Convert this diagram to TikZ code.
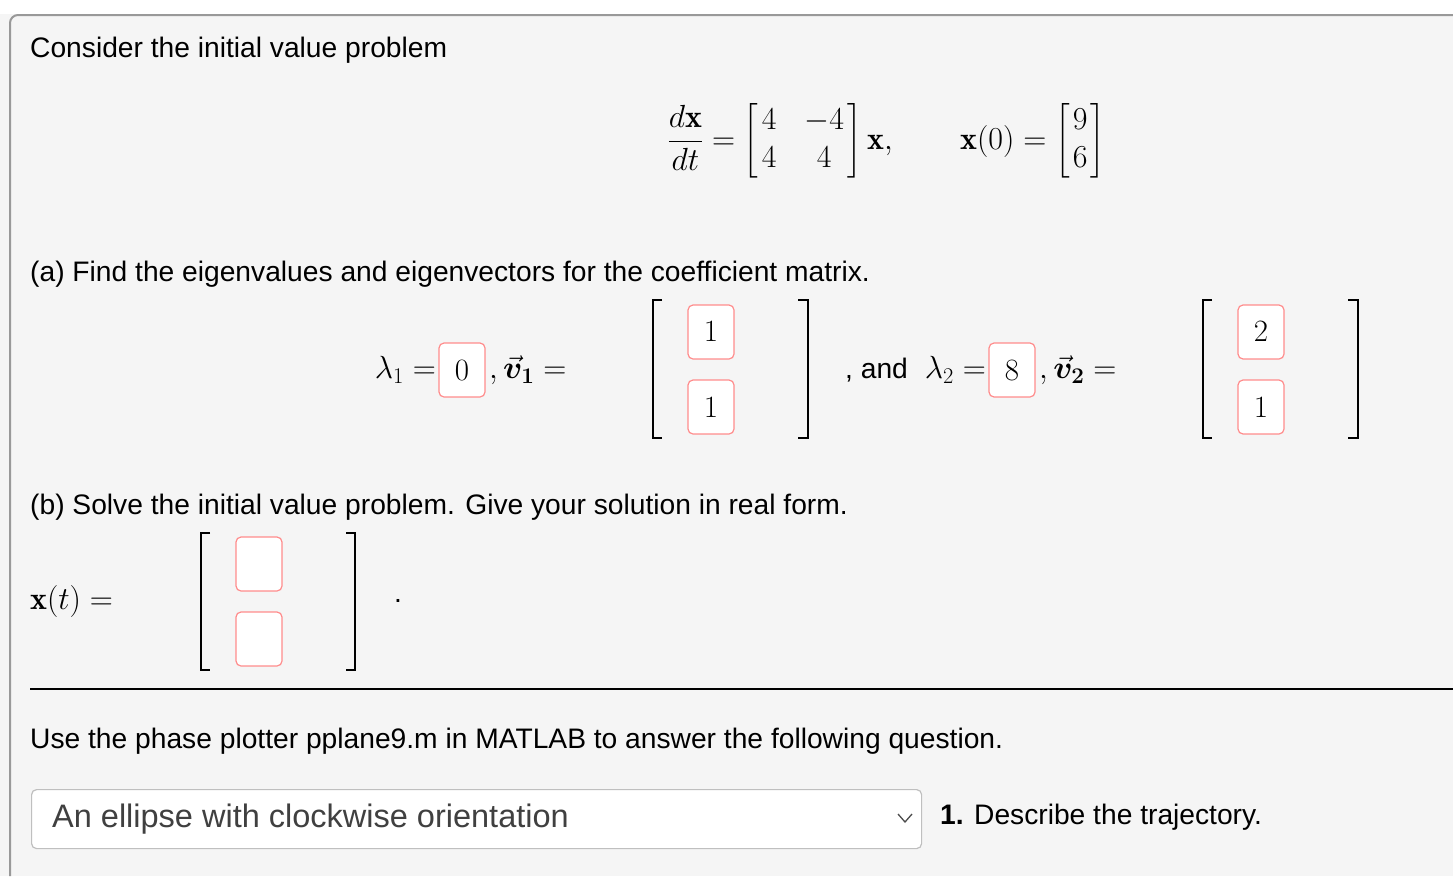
\documentclass[tikz,border=0pt]{standalone}
\usepackage{fix-cm}
\usepackage{amsmath,bm}
\usepackage{fontspec}
\newfontfamily\hv{Liberation Sans}
\begin{document}
\begin{tikzpicture}[x=1pt,y=-1pt,
  txt/.style={anchor=west,inner sep=0,font=\hv\fontsize{28.2}{32}\selectfont},
  mth/.style={inner sep=0,font=\fontsize{32}{38}\selectfont},
  ibox/.style={draw=red!45!white,line width=1.2pt,fill=white,rounded corners=5pt,minimum width=46pt,minimum height=54pt,inner sep=0,font=\fontsize{31}{36}\selectfont},
  brk/.style={line width=2pt}]
\useasboundingbox (0,0) rectangle (1453,876);
\fill[gray!8] (0,0) rectangle (1453,876);
\fill[white] (0,0) rectangle (1453,14);
\draw[gray!80,line width=2pt,rounded corners=8pt] (10,876) -- (10,15) -- (1453,15);
\node[txt] (t1) at (30,50) {Consider the initial value problem};
\node[mth,anchor=east] (eq1) at (893,141) {\setlength{\arraycolsep}{14pt}$\displaystyle\frac{d\mathbf{x}}{dt}=\left[\!\!\begin{array}{cc}4&-4\\4&4\end{array}\!\!\right]\mathbf{x},$};
\node[mth,anchor=west] (eq2) at (960,141) {\setlength{\arraycolsep}{3pt}$\mathbf{x}(0)=\left[\begin{array}{c}9\\6\end{array}\right]$};
\node[txt] (ta) at (30,274) {(a) Find the eigenvalues and eigenvectors for the coefficient matrix.};
\node[mth,anchor=east] (l1) at (436,370) {$\lambda_1=$};
\node[ibox] (b0) at (462,370) {$0$};
\node[mth,anchor=west] (v1) at (489,370) {$,\vec{\bm v}_{\bm 1}=$};
\node[ibox] (b11) at (711,332) {$1$};
\node[ibox] (b12) at (711,407) {$1$};
\draw[brk] (662,300) -- (653,300) -- (653,438) -- (662,438);
\draw[brk] (798,300) -- (808,300) -- (808,438) -- (798,438);
\node[txt] (and) at (845,370) {, and};
\node[mth,anchor=east] (l2) at (986,370) {$\lambda_2=$};
\node[ibox] (b8) at (1012,370) {$8$};
\node[mth,anchor=west] (v2) at (1039,370) {$,\vec{\bm v}_{\bm 2}=$};
\node[ibox] (b21) at (1261,332) {$2$};
\node[ibox] (b22) at (1261,407) {$1$};
\draw[brk] (1212,300) -- (1203,300) -- (1203,438) -- (1212,438);
\draw[brk] (1348,300) -- (1358,300) -- (1358,438) -- (1348,438);
\node[txt] (tb) at (30,507) {(b) Solve the initial value problem. Give your solution in real form.};
\node[mth,anchor=west] (xt) at (30,601) {$\mathbf{x}(t)=$};
\node[ibox] (c1) at (259,564) {};
\node[ibox] (c2) at (259,639) {};
\draw[brk] (210,533) -- (201,533) -- (201,670) -- (210,670);
\draw[brk] (346,533) -- (355,533) -- (355,670) -- (346,670);
\node[txt] (dot) at (394,601) {.};
\draw[line width=1.2pt] (30,689) -- (1453,689);
\node[txt] (tc) at (30,741) {Use the phase plotter pplane9.m in MATLAB to answer the following question.};
\node[draw=gray!50,line width=1.2pt,fill=white,rounded corners=5pt,minimum width=890pt,minimum height=59pt,anchor=north west] (dd) at (31,789) {};
\node[txt,font=\hv\fontsize{32.5}{36}\selectfont,text=black!75] (ddt) at (52,819) {An ellipse with clockwise orientation};
\draw[line width=1.3pt,black!70] (898,814) -- (905,822) -- (912,814);
\node[txt] (q) at (940,817) {\textbf{1.} Describe the trajectory.};
\end{tikzpicture}
\end{document}
